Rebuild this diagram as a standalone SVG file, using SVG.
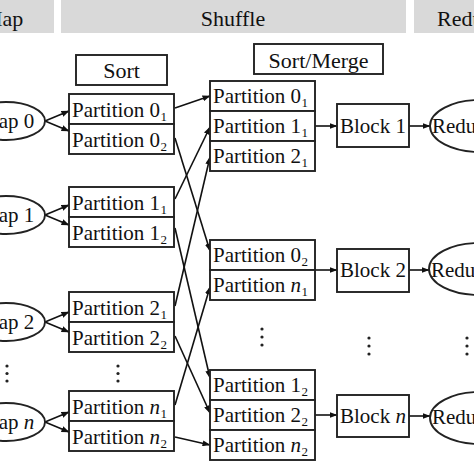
<svg xmlns="http://www.w3.org/2000/svg" width="474" height="474" viewBox="0 0 474 474">
<style>
.bar{fill:#d9d9d9}
.box{fill:#fff;stroke:#222;stroke-width:1.9}
.ell{fill:#fff;stroke:#222;stroke-width:1.9}
.t{font-family:"Liberation Serif","Times New Roman",serif;font-size:21px;fill:#111}
.h{font-size:22px}
.c{text-anchor:middle}
.s{font-size:13px}
.dot{fill:#222}
#connectors line{stroke:#111;stroke-width:1.6;marker-end:url(#ah)}
</style>
<defs>
<marker id="ah" markerWidth="8" markerHeight="6" refX="7.5" refY="3" orient="auto" markerUnits="userSpaceOnUse"><path d="M0,0 L8,3 L0,6 z" fill="#111"/></marker>
</defs>
<rect width="474" height="474" fill="#fff"/>
<g id="header">
<rect class="bar" x="-5" y="-5" width="59" height="38"/>
<rect class="bar" x="61" y="-5" width="345" height="38"/>
<rect class="bar" x="414" y="-5" width="70" height="38"/>
<text class="t h" x="-17" y="26">Map</text>
<text class="t h c" x="233" y="26">Shuffle</text>
<text class="t h" x="437" y="26">Reduce</text>
</g>
<g id="sort"><rect class="box" x="76" y="55" width="91" height="30"/><text class="t h c" x="121.5" y="78">Sort</text></g>
<g id="sortmerge"><rect class="box" x="254" y="44" width="129" height="30"/><text class="t h c" x="318.5" y="68">Sort/Merge</text></g>

<g id="connectors">
<line x1="45" y1="121" x2="69" y2="111"/><line x1="45" y1="121" x2="69" y2="131"/>
<line x1="45" y1="215" x2="69" y2="205"/><line x1="45" y1="215" x2="69" y2="225"/>
<line x1="45" y1="322" x2="69" y2="312"/><line x1="45" y1="322" x2="69" y2="332"/>
<line x1="45" y1="422" x2="69" y2="412"/><line x1="45" y1="422" x2="69" y2="432"/>
<line x1="175" y1="108" x2="210" y2="96"/>
<line x1="175" y1="138" x2="210" y2="251"/>
<line x1="175" y1="199" x2="210" y2="127"/>
<line x1="175" y1="228" x2="210" y2="378"/>
<line x1="175" y1="306" x2="210" y2="157"/>
<line x1="175" y1="336" x2="210" y2="413"/>
<line x1="175" y1="405" x2="210" y2="287"/>
<line x1="175" y1="437" x2="210" y2="445"/>
<line x1="315" y1="126" x2="337" y2="126"/>
<line x1="315" y1="270" x2="337" y2="270"/>
<line x1="315" y1="415" x2="337" y2="415"/>
<line x1="409" y1="126" x2="430" y2="126"/>
<line x1="409" y1="270" x2="429" y2="270"/>
<line x1="409" y1="416" x2="430" y2="416"/>
</g>

<g id="map0"><ellipse class="ell" cx="6" cy="121" rx="39" ry="19"/><text class="t" x="-20" y="128">Map 0</text></g>
<g id="map1"><ellipse class="ell" cx="6" cy="215" rx="39" ry="19"/><text class="t" x="-20" y="222">Map 1</text></g>
<g id="map2"><ellipse class="ell" cx="6" cy="322" rx="39" ry="19"/><text class="t" x="-20" y="329">Map 2</text></g>
<g id="mapn"><ellipse class="ell" cx="6" cy="422" rx="39" ry="19"/><text class="t" x="-20" y="429">Map <tspan font-style="italic">n</tspan></text></g>

<g id="lp01"><rect class="box" x="69" y="94" width="105" height="30"/><text class="t" x="72" y="117">Partition 0<tspan class="s" dx="0.5" dy="4">1</tspan></text></g>
<g id="lp02"><rect class="box" x="69" y="124" width="105" height="30"/><text class="t" x="72" y="147">Partition 0<tspan class="s" dx="0.5" dy="4">2</tspan></text></g>
<g id="lp11"><rect class="box" x="69" y="187" width="105" height="30"/><text class="t" x="72" y="210">Partition 1<tspan class="s" dx="0.5" dy="4">1</tspan></text></g>
<g id="lp12"><rect class="box" x="69" y="217" width="105" height="30"/><text class="t" x="72" y="240">Partition 1<tspan class="s" dx="0.5" dy="4">2</tspan></text></g>
<g id="lp21"><rect class="box" x="69" y="292" width="105" height="30"/><text class="t" x="72" y="315">Partition 2<tspan class="s" dx="0.5" dy="4">1</tspan></text></g>
<g id="lp22"><rect class="box" x="69" y="322" width="105" height="30"/><text class="t" x="72" y="345">Partition 2<tspan class="s" dx="0.5" dy="4">2</tspan></text></g>
<g id="lpn1"><rect class="box" x="69" y="391" width="105" height="30"/><text class="t" x="72" y="414">Partition <tspan font-style="italic">n</tspan><tspan class="s" dx="0.5" dy="4">1</tspan></text></g>
<g id="lpn2"><rect class="box" x="69" y="421" width="105" height="30"/><text class="t" x="72" y="444">Partition <tspan font-style="italic">n</tspan><tspan class="s" dx="0.5" dy="4">2</tspan></text></g>

<g id="rp01"><rect class="box" x="210" y="81" width="105" height="30"/><text class="t" x="213" y="103">Partition 0<tspan class="s" dx="0.5" dy="4">1</tspan></text></g>
<g id="rp11"><rect class="box" x="210" y="111" width="105" height="30"/><text class="t" x="213" y="133">Partition 1<tspan class="s" dx="0.5" dy="4">1</tspan></text></g>
<g id="rp21"><rect class="box" x="210" y="141" width="105" height="30"/><text class="t" x="213" y="163">Partition 2<tspan class="s" dx="0.5" dy="4">1</tspan></text></g>
<g id="rp02"><rect class="box" x="210" y="240" width="105" height="30"/><text class="t" x="213" y="262">Partition 0<tspan class="s" dx="0.5" dy="4">2</tspan></text></g>
<g id="rpn1"><rect class="box" x="210" y="270" width="105" height="30"/><text class="t" x="213" y="292">Partition <tspan font-style="italic">n</tspan><tspan class="s" dx="0.5" dy="4">1</tspan></text></g>
<g id="rp12"><rect class="box" x="210" y="370" width="105" height="30"/><text class="t" x="213" y="392">Partition 1<tspan class="s" dx="0.5" dy="4">2</tspan></text></g>
<g id="rp22"><rect class="box" x="210" y="400" width="105" height="30"/><text class="t" x="213" y="422">Partition 2<tspan class="s" dx="0.5" dy="4">2</tspan></text></g>
<g id="rpn2"><rect class="box" x="210" y="430" width="105" height="30"/><text class="t" x="213" y="452">Partition <tspan font-style="italic">n</tspan><tspan class="s" dx="0.5" dy="4">2</tspan></text></g>

<g id="block1"><rect class="box" x="337" y="104" width="72" height="43"/><text class="t c" x="373" y="133">Block 1</text></g>
<g id="block2"><rect class="box" x="337" y="249" width="72" height="43"/><text class="t c" x="373" y="277">Block 2</text></g>
<g id="blockn"><rect class="box" x="337" y="395" width="72" height="42"/><text class="t c" x="373" y="423">Block <tspan font-style="italic">n</tspan></text></g>

<g id="reduce1"><ellipse class="ell" cx="480" cy="126" rx="50" ry="26"/><text class="t" x="432" y="133">Reduce</text></g>
<g id="reduce2"><ellipse class="ell" cx="479" cy="269" rx="50" ry="26"/><text class="t" x="431" y="277">Reduce</text></g>
<g id="reducen"><ellipse class="ell" cx="480" cy="418" rx="50" ry="26"/><text class="t" x="432" y="424">Reduce</text></g>

<g id="ellipses">
<circle class="dot" cx="7" cy="366" r="1.6"/><circle class="dot" cx="7" cy="373.5" r="1.6"/><circle class="dot" cx="7" cy="381" r="1.6"/>
<circle class="dot" cx="118" cy="366" r="1.6"/><circle class="dot" cx="118" cy="373.5" r="1.6"/><circle class="dot" cx="118" cy="381" r="1.6"/>
<circle class="dot" cx="262" cy="329" r="1.6"/><circle class="dot" cx="262" cy="337" r="1.6"/><circle class="dot" cx="262" cy="345" r="1.6"/>
<circle class="dot" cx="369" cy="338" r="1.6"/><circle class="dot" cx="369" cy="346" r="1.6"/><circle class="dot" cx="369" cy="354" r="1.6"/>
<circle class="dot" cx="467" cy="338" r="1.6"/><circle class="dot" cx="467" cy="346" r="1.6"/><circle class="dot" cx="467" cy="354" r="1.6"/>
</g>
</svg>
